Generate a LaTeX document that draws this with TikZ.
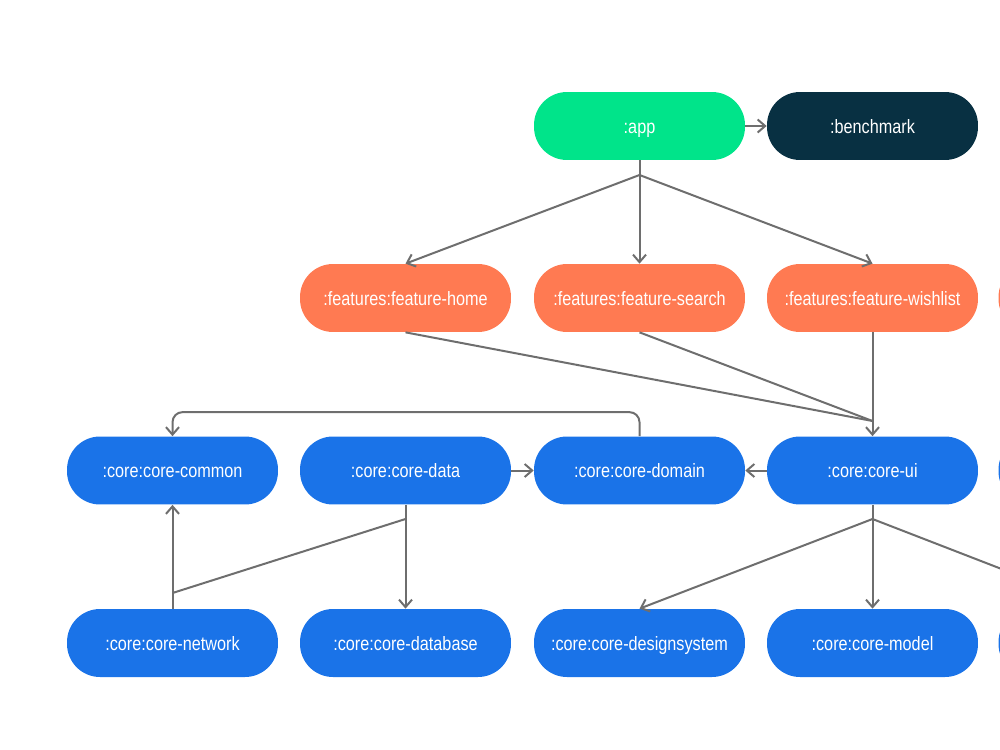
\documentclass[tikz,border=0pt]{standalone}
\usepackage{fontspec}
\setmainfont{Liberation Sans}[FakeStretch=0.84]
\usetikzlibrary{arrows.meta}

\definecolor{appgreen}{RGB}{0,228,138}
\definecolor{benchdark}{RGB}{8,48,66}
\definecolor{featorange}{RGB}{255,122,82}
\definecolor{coreblue}{RGB}{26,115,232}
\definecolor{linkgray}{RGB}{110,110,110}

\tikzset{
	module/.style={rounded corners=0.66cm, minimum width=4.22cm, minimum height=1.36cm, inner sep=0pt, text height=0.9em, text depth=0.06em, text=white, font=\fontsize{11}{13}\selectfont},
	app/.style={module, fill=appgreen},
	bench/.style={module, fill=benchdark},
	feat/.style={module, fill=featorange},
	core/.style={module, fill=coreblue},
	link/.style={draw=linkgray, line width=0.04cm},
	dep/.style={link, -{Straight Barb[length=0.15cm, width=0.26cm, line width=0.04cm]}}
}

\begin{document}
\begin{tikzpicture}[x=0.02cm, y=-0.02cm]
			\useasboundingbox (0, 0) rectangle (1000, 750);
			\clip (0, 0) rectangle (1000, 750);

			\draw (639.5, 126) 	node[app] 	(app) 		{:app};
			\draw (872.5, 126) 	node[bench] 	(bench) 	{:benchmark};
			\draw (405.5, 298) 	node[feat] 	(home) 		{:features:feature-home};
			\draw (639.5, 298) 	node[feat] 	(search) 	{:features:feature-search};
			\draw (872.5, 298) 	node[feat] 	(wishlist) 	{:features:feature-wishlist};
			\draw (1104, 298) 	node[feat] 	(feat_more) 	{};
			\draw (172.5, 470.5) 	node[core] 	(common) 	{:core:core-common};
			\draw (405.5, 470.5) 	node[core] 	(data) 		{:core:core-data};
			\draw (639.5, 470.5) 	node[core] 	(domain) 	{:core:core-domain};
			\draw (872.5, 470.5) 	node[core] 	(ui) 		{:core:core-ui};
			\draw (1104, 470.5) 	node[core] 	(core_more) 	{};
			\draw (172.5, 643) 	node[core] 	(network) 	{:core:core-network};
			\draw (405.5, 643) 	node[core] 	(database) 	{:core:core-database};
			\draw (639.5, 643) 	node[core] 	(design) 	{:core:core-designsystem};
			\draw (872.5, 643) 	node[core] 	(model) 	{:core:core-model};
			\draw (1104, 643) 	node[core] 	(model_more) 	{};

			\coordinate (app_j) 	at (639.5, 175);
			\coordinate (ui_in) 	at (872.5, 421);
			\coordinate (data_j) 	at (405.5, 519);
			\coordinate (net_j) 	at (172.5, 593);
			\coordinate (ui_j) 	at (872.5, 519);

			\draw[dep] (app) -- (bench);
			\draw[link] (app) -- (app_j);
			\draw[dep] (app_j) -- (home.north);
			\draw[dep] (app_j) -- (search);
			\draw[dep] (app_j) -- (wishlist.north);
			\draw[link] (home.south) -- (ui_in);
			\draw[link] (search.south) -- (ui_in);
			\draw[dep] (wishlist) -- (ui);
			\draw[dep, rounded corners=0.2cm] (domain.north) -- ++(0, -24) -| (common.north);
			\draw[dep] (data) -- (domain);
			\draw[dep] (ui) -- (domain);
			\draw[dep] (data) -- (database);
			\draw[link] (data_j) -- (net_j);
			\draw[dep] (network) -- (common);
			\draw[link] (ui) -- (ui_j);
			\draw[dep] (ui_j) -- (design.north);
			\draw[dep] (ui_j) -- (model);
			\draw[dep] (ui_j) -- (model_more.north);
		\end{tikzpicture}
\end{document}
